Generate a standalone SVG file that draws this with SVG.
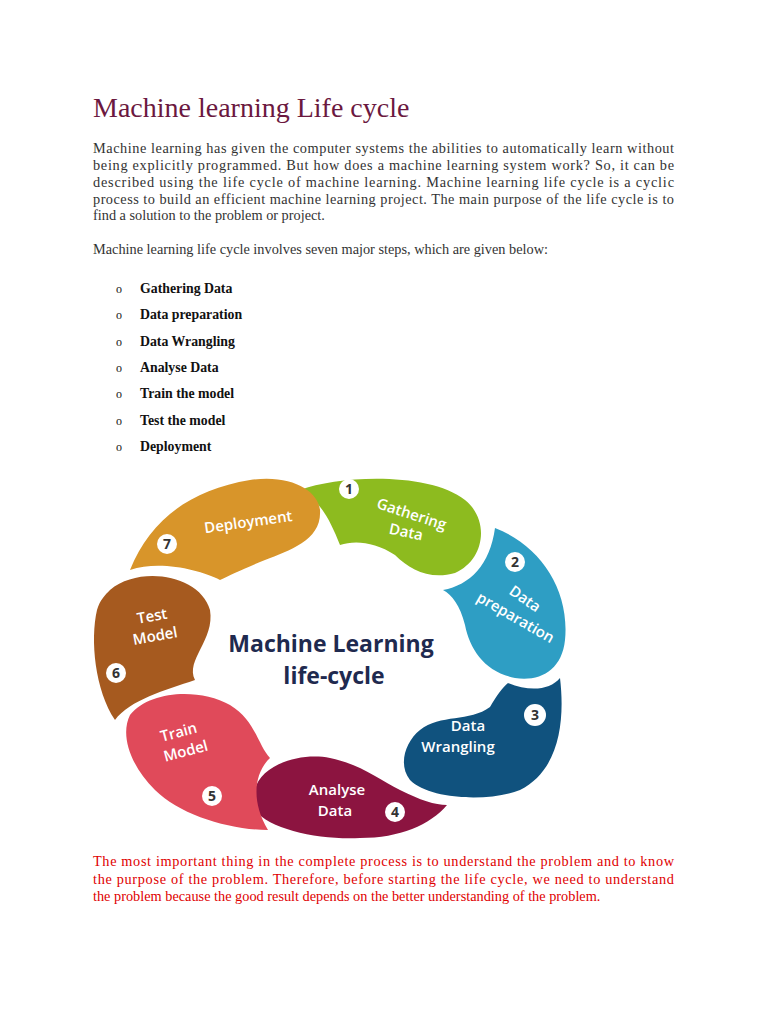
<svg xmlns="http://www.w3.org/2000/svg" width="768" height="1024" viewBox="0 0 768 1024">
<style>
.b{font-family:"Liberation Serif",serif;font-size:14.3px;fill:#333}
.r{font-family:"Liberation Serif",serif;font-size:14.3px;fill:#e00000}
.li{font-family:"Liberation Serif",serif;font-size:13.8px;font-weight:bold;fill:#111}
.o{font-family:"Liberation Serif",serif;font-size:12px;fill:#111}
.w{font-family:"Open Sans",sans-serif;font-size:15px;font-weight:600;fill:#fff;text-anchor:middle}
.n{font-family:"Open Sans",sans-serif;font-size:14px;font-weight:700;fill:#333;text-anchor:middle}
.c{font-family:"Open Sans",sans-serif;font-size:23px;font-weight:700;fill:#1f2a4f;text-anchor:middle}
</style>
<rect width="768" height="1024" fill="#fff"/>
<text x="93" y="117" font-family="Liberation Serif,serif" font-size="28" fill="#6b1840">Machine learning Life cycle</text>
<text class="b" x="93" y="153" textLength="581" lengthAdjust="spacing">Machine learning has given the computer systems the abilities to automatically learn without</text>
<text class="b" x="93" y="170" textLength="581" lengthAdjust="spacing">being explicitly programmed. But how does a machine learning system work? So, it can be</text>
<text class="b" x="93" y="187" textLength="581" lengthAdjust="spacing">described using the life cycle of machine learning. Machine learning life cycle is a cyclic</text>
<text class="b" x="93" y="204" textLength="581" lengthAdjust="spacing">process to build an efficient machine learning project. The main purpose of the life cycle is to</text>
<text class="b" x="93" y="220">find a solution to the problem or project.</text>
<text class="b" x="93" y="254">Machine learning life cycle involves seven major steps, which are given below:</text>
<g>
<text class="o" x="116" y="293">o</text><text class="li" x="140" y="293">Gathering Data</text>
<text class="o" x="116" y="319">o</text><text class="li" x="140" y="319">Data preparation</text>
<text class="o" x="116" y="346">o</text><text class="li" x="140" y="346">Data Wrangling</text>
<text class="o" x="116" y="372">o</text><text class="li" x="140" y="372">Analyse Data</text>
<text class="o" x="116" y="398">o</text><text class="li" x="140" y="398">Train the model</text>
<text class="o" x="116" y="425">o</text><text class="li" x="140" y="425">Test the model</text>
<text class="o" x="116" y="451">o</text><text class="li" x="140" y="451">Deployment</text>
</g>
<g id="step1">
<path d="M300,490 C340,475 430,472 465,500 C490,520 485,560 455,573 C430,580 410,570 395,555 C375,542 355,540 340,545 C330,520 320,500 300,490 Z" fill="#8dbb1f"/>
<circle cx="349" cy="489" r="10" fill="#fff"/><text class="n" x="349" y="494">1</text>
<text class="w" transform="translate(410,519) rotate(18)">Gathering</text>
<text class="w" transform="translate(405,537) rotate(12)">Data</text>
</g>
<g id="step2">
<path d="M495,528 C540,545 570,590 565,640 C562,670 540,682 515,678 C485,672 470,650 465,625 C460,605 452,595 443,590 C470,585 490,565 495,528 Z" fill="#2e9ec4"/>
<circle cx="515" cy="562" r="10" fill="#fff"/><text class="n" x="515" y="567">2</text>
<text class="w" transform="translate(522,603) rotate(35)">Data</text>
<text class="w" transform="translate(513,622) rotate(30)">preparation</text>
</g>
<g id="step3">
<path d="M560,678 C565,720 560,770 520,790 C490,802 430,800 410,780 C398,765 405,742 420,730 C440,714 470,722 490,707 C497,695 502,688 508,683 C530,692 550,690 560,678 Z" fill="#10527e"/>
<circle cx="535" cy="715" r="11" fill="#fff"/><text class="n" x="535" y="720">3</text>
<text class="w" x="468" y="731">Data</text>
<text class="w" x="458" y="752">Wrangling</text>
</g>
<g id="step4">
<path d="M255,790 C260,765 300,752 330,758 C360,764 380,780 400,790 C420,800 435,805 447,805 C430,825 400,838 360,838 C320,840 270,830 255,810 Z" fill="#8c1440"/>
<circle cx="395" cy="812" r="10" fill="#fff"/><text class="n" x="395" y="817">4</text>
<text class="w" x="337" y="795">Analyse</text>
<text class="w" x="335" y="816">Data</text>
</g>
<g id="step5">
<path d="M130,715 C150,690 200,688 230,705 C255,720 258,745 270,758 C255,772 250,800 268,830 C230,830 180,815 155,790 C130,765 120,735 130,715 Z" fill="#e04a5a"/>
<circle cx="212" cy="796" r="10" fill="#fff"/><text class="n" x="212" y="801">5</text>
<text class="w" transform="translate(180,737) rotate(-15)">Train</text>
<text class="w" transform="translate(187,756) rotate(-15)">Model</text>
</g>
<g id="step6">
<path d="M110,590 C140,565 200,575 210,610 C215,640 185,660 195,680 C165,690 130,700 115,720 C95,690 90,640 97,610 C100,600 105,595 110,590 Z" fill="#a65a1f"/>
<circle cx="116" cy="673" r="10" fill="#fff"/><text class="n" x="116" y="678">6</text>
<text class="w" transform="translate(153,621) rotate(-10)">Test</text>
<text class="w" transform="translate(156,641) rotate(-10)">Model</text>
</g>
<g id="step7">
<path d="M130,570 C150,520 190,490 250,480 C290,474 318,490 320,510 C322,540 290,550 265,560 C245,568 230,575 220,580 C200,570 160,560 130,570 Z" fill="#d8952a"/>
<circle cx="167" cy="544" r="10" fill="#fff"/><text class="n" x="167" y="549">7</text>
<text class="w" transform="translate(249,527) rotate(-8)">Deployment</text>
</g>
<g id="center">
<text class="c" x="331" y="652">Machine Learning</text>
<text class="c" x="334" y="684">life-cycle</text>
</g>
<g id="connectors"/>
<text class="r" x="93" y="866" textLength="581" lengthAdjust="spacing">The most important thing in the complete process is to understand the problem and to know</text>
<text class="r" x="93" y="884" textLength="581" lengthAdjust="spacing">the purpose of the problem. Therefore, before starting the life cycle, we need to understand</text>
<text class="r" x="93" y="901">the problem because the good result depends on the better understanding of the problem.</text>
</svg>
